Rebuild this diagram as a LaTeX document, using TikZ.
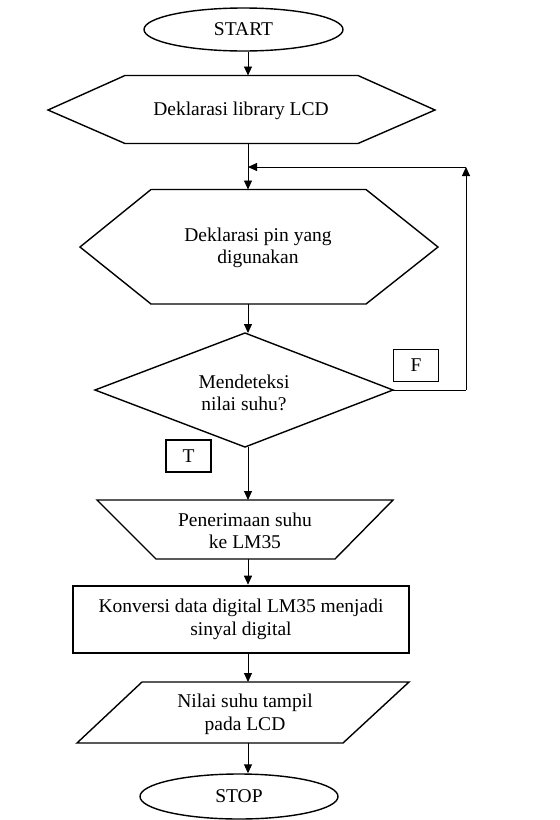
\documentclass[tikz,border=0pt]{standalone}
\usepackage{fontspec}
\setmainfont{Liberation Serif}
\usetikzlibrary{arrows.meta,shapes.geometric}
\begin{document}
\begin{tikzpicture}[x=1pt,y=-1pt,
  shapeline/.style={line width=1.4pt,line join=miter},
  conn/.style={line width=0.9pt,-{Triangle[length=9pt,width=8pt]}},
  plain/.style={line width=0.9pt},
  lbl/.style={align=center,font=\fontsize{19.5}{22.5}\selectfont,inner sep=0pt},
  tag/.style={draw,line width=1.4pt,minimum width=45pt,minimum height=32pt,inner sep=0pt,font=\fontsize{19.5}{22}\selectfont}]
\useasboundingbox (0,0) rectangle (560,820);
% START
\node[draw,ellipse,shapeline,minimum width=199pt,minimum height=43pt,lbl] (start) at (243.5,29.5) {START};
% Hexagon 1
\draw[shapeline] (48,110) -- (125,75.5) -- (358,75.5) -- (435,110) -- (358,143.5) -- (125,143.5) -- cycle;
\coordinate (h1t) at (248,75.5);
\coordinate (h1b) at (248,143.5);
\node[lbl] (h1) at (241,111) {Deklarasi library LCD};
% Hexagon 2
\draw[shapeline] (80,247) -- (151,189.5) -- (366,189.5) -- (438,247) -- (366,304) -- (151,304) -- cycle;
\coordinate (h2t) at (248,189.5);
\coordinate (h2b) at (248,304);
\node[lbl] (h2) at (258,248) {Deklarasi pin yang\\digunakan};
% Diamond
\draw[shapeline] (245,333) -- (393,390) -- (245,447) -- (95,390) -- cycle;
\coordinate (dt) at (248,333);
\coordinate (db) at (248,447);
\coordinate (dr) at (393,390);
\node[lbl] (dec) at (244,393) {Mendeteksi\\nilai suhu?};
% F and T tags
\node[tag] (f) at (416,365.5) {F};
\node[tag] (t) at (188.5,456) {T};
% feedback loop
\coordinate (loopbr) at (466,390);
\coordinate (looptr) at (466,167);
\coordinate (merge) at (248,167);
\draw[plain] (dr) -- (loopbr);
\draw[conn] (loopbr) -- (looptr);
\draw[conn] (looptr) -- (merge);
% Trapezoid
\draw[shapeline] (97,500) -- (393,500) -- (335,559) -- (156,559) -- cycle;
\coordinate (tzt) at (248,500);
\coordinate (tzb) at (248,559);
\node[lbl] (tz) at (245,531) {Penerimaan suhu\\ke LM35};
% Rectangle
\node[draw,line width=2.6pt,minimum width=336pt,minimum height=67pt,lbl] (conv) at (241,619.5) {Konversi data digital LM35 menjadi\\sinyal digital};
% Parallelogram
\draw[shapeline] (142,682) -- (409,682) -- (343,743) -- (77,743) -- cycle;
\coordinate (pgt) at (248,682);
\coordinate (pgb) at (248,743);
\node[lbl] (pg) at (245,714.5) {Nilai suhu tampil\\pada LCD};
% STOP
\node[draw,ellipse,shapeline,minimum width=198pt,minimum height=45pt,lbl] (stop) at (239,796.5) {STOP};
% connectors
\draw[conn] (h1t |- start.south) -- (h1t);
\draw[conn] (h1b) -- (h2t);
\draw[conn] (h2b) -- (dt);
\draw[conn] (db) -- (tzt);
\draw[conn] (tzb) -- (conv.north -| tzb);
\draw[conn] (conv.south -| pgt) -- (pgt);
\draw[conn] (pgb) -- (stop.north -| pgb);
\end{tikzpicture}
\end{document}
